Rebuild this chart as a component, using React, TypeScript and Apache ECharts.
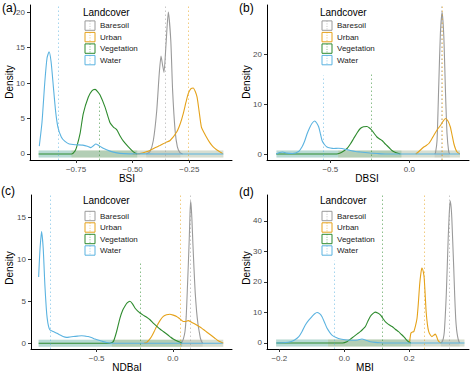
import React, { useEffect, useRef } from "react";
import * as echarts from "echarts";

const classes = ["Baresoil", "Urban", "Vegetation", "Water"];
const classColors = ["#9a9a9a", "#E5A21A", "#2E8B2E", "#5BB3E0"];
const panelTags = ["(a)", "(b)", "(c)", "(d)"];
const indexNames = ["BSI", "DBSI", "NDBaI", "MBI"];

// ---- tick values ----
const bsiXTicks = [-0.75, -0.5, -0.25];
const dbsiXTicks = [-0.5, 0.0];
const ndbaiXTicks = [-0.5, 0.0];
const mbiXTicks = [-0.2, 0.0, 0.2];
const bsiYTicks = [0, 5, 10, 15, 20];
const dbsiYTicks = [0, 10, 20];
const ndbaiYTicks = [0, 5, 10, 15];
const mbiYTicks = [0, 10, 20, 30, 40];

// ---- density curves ----
const bsiBaresoil = [[-0.44,0],[-0.424,0.3],[-0.409,1.9],[-0.394,6.1],[-0.383,11.3],[-0.375,13.8],[-0.368,12.5],[-0.362,11.5],[-0.353,15.5],[-0.343,20],[-0.332,16],[-0.324,9],[-0.313,3.3],[-0.303,1.0],[-0.291,0.15],[-0.28,0]];
const bsiUrban = [[-0.5,0],[-0.468,0.05],[-0.44,0.3],[-0.424,0.5],[-0.4,0.9],[-0.38,1.2],[-0.355,1.6],[-0.335,1.9],[-0.306,3.1],[-0.29,4.3],[-0.277,5.7],[-0.265,7.3],[-0.255,8.5],[-0.243,9.2],[-0.233,9.3],[-0.224,8.8],[-0.216,8.0],[-0.207,6.0],[-0.197,3.8],[-0.185,3.0],[-0.175,2.4],[-0.16,1.6],[-0.145,1.0],[-0.13,0.6],[-0.115,0.3],[-0.103,0.05]];
const bsiVegetation = [[-0.915,0],[-0.769,0],[-0.755,0.4],[-0.747,1.0],[-0.732,2.9],[-0.718,5.7],[-0.696,8],[-0.68,8.9],[-0.666,9.1],[-0.655,8.8],[-0.644,8.3],[-0.622,6.6],[-0.6,4.4],[-0.585,3.8],[-0.57,3.4],[-0.555,2.5],[-0.541,1.8],[-0.519,1.0],[-0.497,0.3],[-0.482,0]];
const bsiWater = [[-0.912,1.1],[-0.9,4.5],[-0.888,10],[-0.878,13.5],[-0.869,14.4],[-0.86,13],[-0.85,9.5],[-0.84,6],[-0.83,3.8],[-0.815,2.4],[-0.8,1.8],[-0.78,1.4],[-0.75,1.3],[-0.72,1.25],[-0.7,1.1],[-0.685,0.9],[-0.672,1.2],[-0.663,1.4],[-0.65,1.2],[-0.63,0.8],[-0.6,0.4],[-0.57,0.15],[-0.54,0.05],[-0.5,0.02],[-0.4,0],[-0.1,0]];

const dbsiBaresoil = [[0.16,0],[0.165,0.2],[0.175,2.7],[0.186,14],[0.196,24],[0.207,28.4],[0.218,23.4],[0.228,12.7],[0.238,4.1],[0.249,0.4],[0.255,0]];
const dbsiUrban = [[0.04,0],[0.049,0.2],[0.07,0.8],[0.091,1.4],[0.107,1.7],[0.123,2.1],[0.138,2.8],[0.154,3.7],[0.175,4.8],[0.196,5.7],[0.212,6.5],[0.228,7.1],[0.244,6.6],[0.259,5.4],[0.27,3.8],[0.281,2.1],[0.292,1.0],[0.302,0.4],[0.319,0]];
const dbsiVegetation = [[-0.842,0],[-0.46,0],[-0.437,0.2],[-0.415,0.6],[-0.394,1.1],[-0.373,2.0],[-0.352,3.1],[-0.331,4.2],[-0.31,5.1],[-0.29,5.45],[-0.268,5.5],[-0.252,5.2],[-0.236,4.7],[-0.22,4.0],[-0.205,3.4],[-0.188,3.0],[-0.173,2.7],[-0.158,2.2],[-0.142,1.7],[-0.126,1.2],[-0.11,0.7],[-0.094,0.4],[-0.078,0.2],[-0.057,0]];
const dbsiWater = [[-0.842,0],[-0.82,0.3],[-0.8,0.4],[-0.78,0.2],[-0.74,0.1],[-0.7,0.5],[-0.679,1.4],[-0.663,2.5],[-0.647,4],[-0.631,5.2],[-0.616,6.1],[-0.599,6.6],[-0.586,6.2],[-0.573,5.4],[-0.562,4.0],[-0.552,2.7],[-0.537,1.9],[-0.521,1.4],[-0.5,1.2],[-0.478,1.1],[-0.45,1.15],[-0.426,1.1],[-0.4,0.9],[-0.373,0.7],[-0.34,0.5],[-0.31,0.4],[-0.25,0.2],[-0.205,0.1],[-0.15,0],[0.32,0]];

const ndbaiBaresoil = [[0.05,0],[0.057,0.1],[0.068,0.5],[0.079,1.4],[0.087,3.2],[0.094,6.2],[0.101,9.5],[0.107,12.5],[0.112,15.5],[0.116,16.9],[0.12,16.2],[0.124,14.9],[0.131,11.8],[0.138,8.9],[0.146,6.0],[0.155,3.8],[0.164,2.3],[0.172,1.4],[0.18,0.6],[0.188,0.2],[0.195,0]];
const ndbaiUrban = [[-0.19,0],[-0.172,0.1],[-0.156,0.4],[-0.14,0.8],[-0.123,1.4],[-0.107,2.0],[-0.085,2.7],[-0.063,3.2],[-0.042,3.4],[-0.02,3.45],[0.002,3.35],[0.024,3.2],[0.046,2.9],[0.068,2.6],[0.085,2.6],[0.1,2.7],[0.122,2.5],[0.144,2.3],[0.166,2.05],[0.188,1.8],[0.21,1.5],[0.232,1.2],[0.254,0.9],[0.275,0.6],[0.297,0.3],[0.319,0.1],[0.33,0]];
const ndbaiVegetation = [[-0.88,0],[-0.42,0],[-0.391,0.2],[-0.369,1.4],[-0.347,3.0],[-0.33,3.9],[-0.315,4.4],[-0.3,4.8],[-0.282,5.0],[-0.265,4.7],[-0.249,4.2],[-0.232,3.85],[-0.216,3.6],[-0.195,3.35],[-0.172,3.1],[-0.15,2.8],[-0.129,2.4],[-0.107,2.05],[-0.085,1.7],[-0.063,1.4],[-0.041,1.1],[-0.02,0.8],[0.002,0.5],[0.035,0.2],[0.06,0]];
const ndbaiWater = [[-0.88,7.9],[-0.872,10.9],[-0.861,13.3],[-0.85,11.3],[-0.839,6.9],[-0.83,4.2],[-0.824,3.0],[-0.815,2.0],[-0.806,1.6],[-0.784,1.4],[-0.76,1.2],[-0.741,1.0],[-0.72,0.8],[-0.697,0.7],[-0.675,0.75],[-0.653,0.8],[-0.625,0.85],[-0.598,0.9],[-0.575,0.85],[-0.555,0.8],[-0.53,0.65],[-0.511,0.5],[-0.485,0.35],[-0.457,0.2],[-0.435,0.1],[-0.413,0.04],[-0.38,0],[0.326,0]];

const mbiBaresoil = [[0.298,0],[0.301,0.3],[0.305,1.5],[0.308,3.7],[0.311,9],[0.314,15.8],[0.317,25],[0.32,34.5],[0.323,42],[0.326,46.6],[0.329,44.5],[0.331,41.1],[0.334,33],[0.337,24.6],[0.34,15.5],[0.343,8.1],[0.346,4.2],[0.349,2.1],[0.352,0.8],[0.355,0]];
const mbiUrban = [[0.198,0],[0.201,0.5],[0.205,3.2],[0.21,3.6],[0.214,3.7],[0.219,5.5],[0.224,8.1],[0.228,13],[0.232,19.1],[0.236,23],[0.239,24.6],[0.243,23.5],[0.246,21.3],[0.249,16],[0.252,10.3],[0.256,6],[0.26,3.7],[0.265,2.6],[0.27,2.1],[0.275,2.5],[0.28,2.9],[0.284,2.2],[0.288,1.0],[0.293,0.3],[0.298,0]];
const mbiVegetation = [[-0.209,0],[-0.005,0],[0.008,0.4],[0.018,1.2],[0.029,2.1],[0.039,2.9],[0.049,3.7],[0.057,4.5],[0.065,5.4],[0.072,7.0],[0.08,8.7],[0.088,9.6],[0.095,10.1],[0.103,9.8],[0.111,9.2],[0.118,8.2],[0.126,7.0],[0.136,6.1],[0.147,5.4],[0.157,4.5],[0.167,3.7],[0.175,2.9],[0.183,2.1],[0.19,1.2],[0.198,0.4],[0.205,0]];
const mbiWater = [[-0.209,0],[-0.18,0.15],[-0.166,0.4],[-0.153,1.0],[-0.14,2.1],[-0.13,3.8],[-0.12,5.9],[-0.11,7.4],[-0.099,8.7],[-0.092,9.5],[-0.084,10],[-0.076,9.6],[-0.069,8.7],[-0.061,6.8],[-0.053,4.8],[-0.045,3.5],[-0.038,2.6],[-0.025,1.8],[-0.012,1.3],[0.008,1.0],[0.029,0.9],[0.042,1.0],[0.054,1.3],[0.067,0.9],[0.08,0.4],[0.095,0.2],[0.111,0.1],[0.14,0],[0.37,0]];

// ---- class means (Baresoil, Urban, Vegetation, Water) ----
const bsiMeans = [-0.357, -0.255, -0.649, -0.828];
const dbsiMeans = [0.203, 0.208, -0.241, -0.546];
const ndbaiMeans = [0.111, 0.046, -0.216, -0.801];
const mbiMeans = [0.324, 0.246, 0.116, -0.03];
// visible top of each mean line (density units)
const bsiMeanTops = [21, 21, 7.5, 21];
const dbsiMeanTops = [29.8, 29.8, 16.4, 15.7];
const ndbaiMeanTops = [17.65, 17.65, 9.8, 17.65];
const mbiMeanTops = [48.5, 48.5, 48.5, 27];

// ---- ranges of observations (rug bands) ----
const bsiRanges = [[-0.44, -0.29], [-0.77, -0.1], [-0.915, -0.48], [-0.915, -0.1]];
const dbsiRanges = [[0.16, 0.255], [-0.45, 0.32], [-0.84, -0.05], [-0.84, 0.32]];
const ndbaiRanges = [[0.05, 0.195], [-0.4, 0.33], [-0.88, 0.06], [-0.88, 0.33]];
const mbiRanges = [[0.298, 0.355], [-0.05, 0.37], [-0.21, 0.205], [-0.21, 0.37]];

// ---- layout (positions only) ----
const layout = [
  { rect: [30, 5, 202, 155], xr: [-0.953, -0.062], yr: [-0.85, 21], dec: 2, legend: [83, 12, 25.6], tag: [2, 8], xt: [127, 178], yt: [9.5, 82] },
  { rect: [267, 5, 202, 155], xr: [-0.9, 0.377], yr: [-1.2, 29.8], dec: 1, legend: [320, 12, 25.6], tag: [239, 8], xt: [367, 178], yt: [246, 82] },
  { rect: [31, 195, 201, 154], xr: [-0.93, 0.387], yr: [-0.68, 17.65], dec: 1, legend: [83, 200.5, 216], tag: [1, 191], xt: [127, 367], yt: [9.5, 268] },
  { rect: [267, 195, 202, 154], xr: [-0.238, 0.384], yr: [-1.97, 48.5], dec: 1, legend: [320, 200.5, 216], tag: [239, 192], xt: [365, 367], yt: [246, 268] },
];

const panelData = [
  { curves: [bsiBaresoil, bsiUrban, bsiVegetation, bsiWater], means: bsiMeans, tops: bsiMeanTops, ranges: bsiRanges, xTicks: bsiXTicks, yTicks: bsiYTicks },
  { curves: [dbsiBaresoil, dbsiUrban, dbsiVegetation, dbsiWater], means: dbsiMeans, tops: dbsiMeanTops, ranges: dbsiRanges, xTicks: dbsiXTicks, yTicks: dbsiYTicks },
  { curves: [ndbaiBaresoil, ndbaiUrban, ndbaiVegetation, ndbaiWater], means: ndbaiMeans, tops: ndbaiMeanTops, ranges: ndbaiRanges, xTicks: ndbaiXTicks, yTicks: ndbaiYTicks },
  { curves: [mbiBaresoil, mbiUrban, mbiVegetation, mbiWater], means: mbiMeans, tops: mbiMeanTops, ranges: mbiRanges, xTicks: mbiXTicks, yTicks: mbiYTicks },
];

const FONT = "Liberation Sans, Arial, Helvetica, sans-serif";

function fmt(v: number, dec: number) {
  const s = Number(v).toFixed(dec);
  return s.replace("-", "\u2212");
}

function buildOption() {
  const grid: any[] = [];
  const xAxis: any[] = [];
  const yAxis: any[] = [];
  const series: any[] = [];
  const graphic: any[] = [];

  layout.forEach((L, i) => {
    const P = panelData[i];
    grid.push({ left: L.rect[0], top: L.rect[1], width: L.rect[2], height: L.rect[3], containLabel: false });
    xAxis.push({
      type: "value", gridIndex: i, min: L.xr[0], max: L.xr[1],
      axisLine: { show: true, onZero: false, lineStyle: { color: "#000", width: 1 } },
      axisTick: { show: true, length: 3, customValues: P.xTicks, lineStyle: { color: "#333", width: 1 } },
      axisLabel: { customValues: P.xTicks, formatter: (v: number) => fmt(v, L.dec), fontSize: 8, color: "#4d4d4d", margin: 5, fontFamily: FONT },
      splitLine: { show: false },
    });
    yAxis.push({
      type: "value", gridIndex: i, min: L.yr[0], max: L.yr[1],
      axisLine: { show: true, onZero: false, lineStyle: { color: "#000", width: 1 } },
      axisTick: { show: true, length: 3, customValues: P.yTicks, lineStyle: { color: "#333", width: 1 } },
      axisLabel: { customValues: P.yTicks, formatter: (v: number) => String(v), fontSize: 8, color: "#4d4d4d", margin: 5, fontFamily: FONT },
      splitLine: { show: false },
    });

    classes.forEach((c, k) => {
      const col = classColors[k];
      series.push({
        type: "line", xAxisIndex: i, yAxisIndex: i, silent: true, symbol: "none", z: 1,
        data: [[P.ranges[k][0], 0], [P.ranges[k][1], 0]],
        lineStyle: { color: col, width: 7, opacity: 0.22 },
      });
    });
    classes.forEach((c, k) => {
      const col = classColors[k];
      series.push({
        type: "line", name: c, xAxisIndex: i, yAxisIndex: i, silent: true, symbol: "none", z: 3,
        smooth: 0.2,
        data: P.curves[k],
        lineStyle: { color: col, width: 1.1 },
        markLine: {
          silent: true, symbol: "none", label: { show: false },
          lineStyle: { color: col, type: [1.5, 2.5], width: 1, opacity: 0.55 },
          data: [[{ coord: [P.means[k], L.yr[0]] }, { coord: [P.means[k], P.tops[k]] }]],
        },
      });
    });

    // panel tag
    graphic.push({ type: "text", x: L.tag[0], y: L.tag[1], style: { text: panelTags[i], font: `12px ${FONT}`, fill: "#000", textAlign: "left", textVerticalAlign: "middle" } });
    // axis titles
    graphic.push({ type: "text", x: L.xt[0], y: L.xt[1], style: { text: indexNames[i], font: `10px ${FONT}`, fill: "#000", textAlign: "center", textVerticalAlign: "middle" } });
    graphic.push({ type: "text", x: L.yt[0], y: L.yt[1], rotation: Math.PI / 2, style: { text: "Density", font: `10px ${FONT}`, fill: "#000", textAlign: "center", textVerticalAlign: "middle" } });
    // legend
    const lx = L.legend[0];
    graphic.push({ type: "text", x: lx, y: L.legend[1], style: { text: "Landcover", font: `10px ${FONT}`, fill: "#000", textAlign: "left", textVerticalAlign: "middle" } });
    classes.forEach((c, k) => {
      const cy = L.legend[2] + k * 11.5;
      const col = classColors[k];
      graphic.push({ type: "rect", shape: { x: lx + 2, y: cy - 4.7, width: 10, height: 9.4 }, style: { fill: "#fff", stroke: col, lineWidth: 1 } });
      graphic.push({ type: "line", shape: { x1: lx + 7, y1: cy - 4.7, x2: lx + 7, y2: cy + 4.7 }, style: { stroke: col, lineWidth: 1, lineDash: [1, 1.5], opacity: 0.6 } });
      graphic.push({ type: "text", x: lx + 17, y: cy, style: { text: c, font: `8px ${FONT}`, fill: "#222", textAlign: "left", textVerticalAlign: "middle" } });
    });
  });

  return { animation: false, backgroundColor: "#fff", grid, xAxis, yAxis, series, graphic };
}

export default function App() {
  const ref = useRef<HTMLDivElement>(null);
  useEffect(() => {
    if (!ref.current) return;
    const chart = echarts.init(ref.current, undefined, { renderer: "svg" });
    chart.setOption(buildOption() as any);
    return () => chart.dispose();
  }, []);
  return <div ref={ref} style={{ position: "fixed", left: 0, top: 0, width: 474, height: 379 }} />;
}
